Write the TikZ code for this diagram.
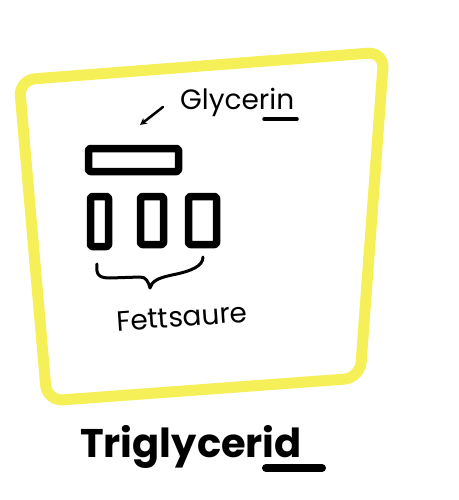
\documentclass[tikz,border=0pt]{standalone}
\usepackage{fontspec}
\setmainfont{Poppins}
\usetikzlibrary{arrows.meta}
\definecolor{hlyellow}{RGB}{246,240,88}
\begin{document}
\begin{tikzpicture}[x=1pt,y=-1pt,
  box/.style={draw=black, line width=7.5pt, rounded corners=2pt, inner sep=0pt, line join=round},
  lbl/.style={font=\fontsize{28}{32}\selectfont, inner sep=0pt, text=black},
  pen/.style={draw=black, line width=3pt, line cap=round, line join=round}]
\useasboundingbox[fill=white] (0,0) rectangle (458,500);
% yellow frame
\draw[draw=hlyellow, line width=11pt, rounded corners=16pt, line join=round]
  (19,80) -- (384,52) -- (360,378) -- (47,401) -- cycle;
% glycerin bar
\node[box, minimum width=90pt, minimum height=23pt] (gly) at (133.5,160) {};
% fatty acids
\node[box, minimum width=18pt, minimum height=50pt] (fa1) at (99.5,221.5) {};
\node[box, minimum width=23pt, minimum height=48pt] (fa2) at (152,220.5) {};
\node[box, minimum width=28pt, minimum height=48pt] (fa3) at (202.5,220.5) {};
% labels
\node[lbl, anchor=base west] (glyc) at (180,110) {Glycerin};
\draw[pen, line width=3.5pt] (264,119) -- (297,119);
\coordinate (ahead) at (140,125);
\draw[pen, line width=2.5pt, -{Stealth[open, length=7pt, width=7pt]}] ([xshift=-17pt,yshift=-4pt]glyc.west) -- (ahead);
% brace
\draw[pen] (97,264) .. controls (96,274) and (98,278) .. (110,278)
  -- (140,277) .. controls (146,277) and (148,281) .. (150,288)
  .. controls (152,281) and (158,278) .. (172,275)
  .. controls (192,271) and (203,266) .. (203,257);
\node[lbl, rotate=4] (fett) at (182,317) {Fettsaure};
% title
\node[font=\bfseries\fontsize{40}{46}\selectfont, anchor=base west, inner sep=0pt] (tri) at (80,457) {Triglycerid};
\draw[pen, line width=8pt] (266,468) -- (322,468);
\end{tikzpicture}
\end{document}
